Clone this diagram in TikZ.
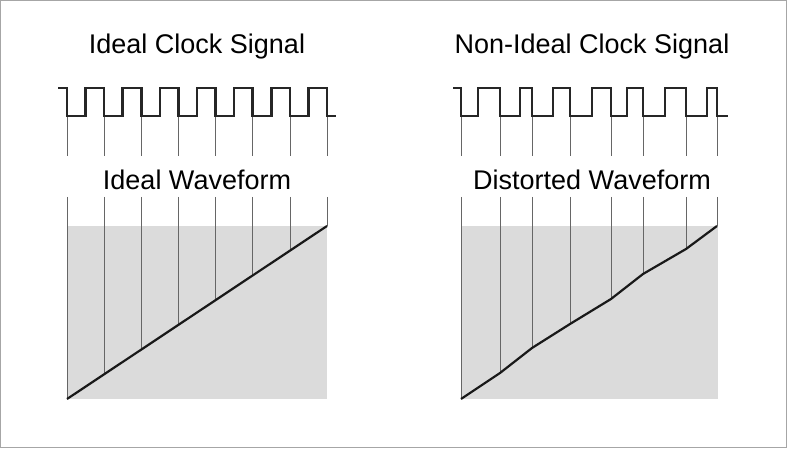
\documentclass[tikz,border=0pt]{standalone}
\usepackage{fontspec}
\setmainfont{Liberation Sans}
\begin{document}
\begin{tikzpicture}[x=1pt,y=-1pt,
  lbl/.style={font=\fontsize{27}{30}\selectfont,inner sep=0pt},
  clk/.style={line width=2.6pt,black!85},
  tick/.style={line width=0.8pt,gray!80!black},
  ramp/.style={line width=2.2pt,black!90,line join=round}]
\useasboundingbox (0,0) rectangle (787,449);
\draw[gray!70,line width=1.2pt] (0.6,0.6) rectangle (786.4,447.4);
% titles
\node[lbl] (t1) at (197,47) {Ideal Clock Signal};
\node[lbl] (t2) at (592,47) {Non-Ideal Clock Signal};
\node[lbl] (w1) at (197,180) {Ideal Waveform};
\node[lbl] (w2) at (592,180) {Distorted Waveform};
% gray areas
\fill[gray!28] (67,226) rectangle (327,399);
\fill[gray!28] (461,226) rectangle (718,399);
% left ticks and clock
\foreach \x/\y in {67/399,104.1/374.3,141.3/349.6,178.4/324.9,215.6/300.1,252.7/275.4,289.9/250.7,327/226}{
  \draw[tick] (\x,116) -- (\x,156);
  \draw[tick] (\x,197) -- (\x,\y);
}
\draw[clk] (58,88)
  \foreach \x in {67,104.1,141.3,178.4,215.6,252.7,289.9}{ -- (\x,88) -- (\x,116) -- (\x+18.5,116) -- (\x+18.5,88)}
  -- (327,88) -- (327,116) -- (336,116);
\draw[ramp] (67,399) -- (327,226);
% right ticks and clock
\foreach \x/\y in {461/399,500/373,532/348,570/324,611/299,643/274,686/249,717/226}{
  \draw[tick] (\x,116) -- (\x,156);
  \draw[tick] (\x,197) -- (\x,\y);
}
\draw[clk] (453,88) -- (461,88) -- (461,116) -- (478,116) -- (478,88)
  -- (500,88) -- (500,116) -- (520,116) -- (520,88)
  -- (532,88) -- (532,116) -- (553,116) -- (553,88)
  -- (570,88) -- (570,116) -- (592,116) -- (592,88)
  -- (611,88) -- (611,116) -- (627,116) -- (627,88)
  -- (643,88) -- (643,116) -- (665,116) -- (665,88)
  -- (686,88) -- (686,116) -- (707,116) -- (707,88)
  -- (717,88) -- (717,116) -- (728,116);
\draw[ramp] (461,399) -- (500,373) -- (532,348) -- (570,324) -- (611,299) -- (643,274) -- (686,249) -- (717,226);
\end{tikzpicture}
\end{document}
